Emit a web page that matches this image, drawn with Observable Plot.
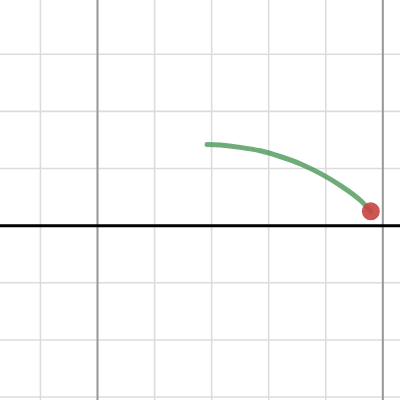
<!DOCTYPE html>
<html>
<head>
<meta charset="utf-8">
<script src="https://cdn.jsdelivr.net/npm/d3@7"></script>
<script src="https://cdn.jsdelivr.net/npm/@observablehq/plot@0.6"></script>
<style>
  html, body { margin: 0; padding: 0; background: #fff; }
  svg { display: block; }
</style>
</head>
<body>
<div id="chart"></div>
<script>
// Grid ticks (integer units)
const xTicks = [-1, 0, 1, 2, 3, 4, 5];
const yTicks = [-3, -2, -1, 0, 1, 2, 3];
// Darker vertical lines
const darkX = [0, 5];
// Bold horizontal line
const boldY = [0];
// Curve points
const curveX = [1.92, 2.15, 2.50, 2.85, 3.20, 3.56, 3.91, 4.26, 4.61, 4.79];
const curveY = [1.42, 1.41, 1.37, 1.31, 1.21, 1.08, 0.91, 0.70, 0.44, 0.25];
// End point
const dotX = [4.79];
const dotY = [0.25];

const curve = curveX.map((x, i) => ({x, y: curveY[i]}));
const dots = dotX.map((x, i) => ({x, y: dotY[i]}));

const chart = Plot.plot({
  width: 400,
  height: 400,
  margin: 0,
  x: {domain: [-1.70, 5.31], axis: null},
  y: {domain: [-3.06, 3.94], axis: null},
  marks: [
    Plot.ruleX(xTicks, {stroke: "#dcdcdc", strokeWidth: 1.6}),
    Plot.ruleY(yTicks, {stroke: "#dcdcdc", strokeWidth: 1.6}),
    Plot.ruleX(darkX, {stroke: "#999", strokeWidth: 2}),
    Plot.ruleY(boldY, {stroke: "#000", strokeWidth: 3}),
    Plot.line(curve, {x: "x", y: "y", curve: "catmull-rom", stroke: "#388c46", strokeOpacity: 0.72, strokeWidth: 5, strokeLinecap: "round"}),
    Plot.dot(dots, {x: "x", y: "y", r: 9, fill: "#c74440", fillOpacity: 0.9, stroke: "none"})
  ]
});
document.getElementById("chart").appendChild(chart);
</script>
</body>
</html>
